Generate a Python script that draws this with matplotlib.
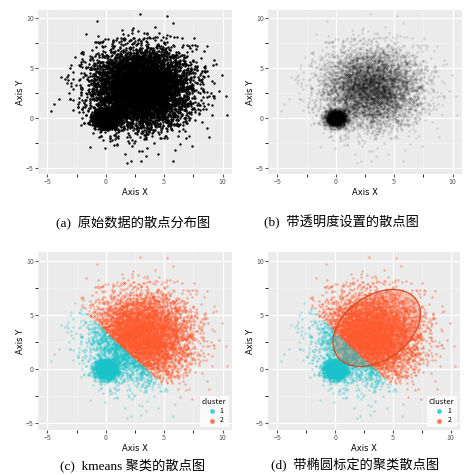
import numpy as np
import matplotlib
matplotlib.use("Agg")
import matplotlib.pyplot as plt
from matplotlib.patches import Ellipse

plt.rcParams["font.family"] = ["Noto Sans CJK SC", "DejaVu Sans"]

# cluster parameters (centre x, centre y, sd x, sd y, count)
cluster_cx = [0.0, 3.0]
cluster_cy = [0.0, 3.0]
cluster_sx = [0.45, 2.1]
cluster_sy = [0.4, 2.0]
cluster_n = [2500, 6500]
captions = ["(a)  原始数据的散点分布图", "(b)  带透明度设置的散点图",
            "(c)  kmeans 聚类的散点图", "(d)  带椭圆标定的聚类散点图"]
ticks = [-5, 0, 5, 10]
cyan, orange = "#19c3c9", "#ff5a2e"

# the cloud is too dense to read point by point: sample it from the read-off parameters
rng = np.random.default_rng(3)
xs, ys = [], []
for cx, cy, sx, sy, n in zip(cluster_cx, cluster_cy, cluster_sx, cluster_sy, cluster_n):
    xs.append(rng.normal(cx, sx, n))
    ys.append(rng.normal(cy, sy, n))
x = np.concatenate(xs)
y = np.concatenate(ys)
lab = ((x - 3.5) ** 2 + (y - 3.5) ** 2) < (x ** 2 + y ** 2)

fig = plt.figure(figsize=(4.74, 4.75), dpi=100)
fig.patch.set_facecolor("white")
W, H = 474, 475
boxes = [(38, 10, 232, 174), (268, 10, 462, 174), (38, 252, 232, 430), (268, 252, 460, 430)]


def style(ax):
    ax.set_facecolor("#ebebeb")
    ax.set_xlim(-5.8, 10.8)
    ax.set_ylim(-5.6, 10.8)
    ax.set_xticks(ticks)
    ax.set_yticks(ticks)
    ax.set_xticks([-2.5, 2.5, 7.5], minor=True)
    ax.set_yticks([-2.5, 2.5, 7.5], minor=True)
    ax.grid(True, which="major", color="white", lw=0.9)
    ax.grid(True, which="minor", color="#f5f5f5", lw=0.5)
    ax.set_axisbelow(True)
    for s in ax.spines.values():
        s.set_visible(False)
    ax.tick_params(labelsize=5, colors="#555555", length=2, pad=1)
    ax.set_xlabel("Axis X", fontsize=6, labelpad=1, family="DejaVu Sans")
    ax.set_ylabel("Axis Y", fontsize=6, labelpad=1, family="DejaVu Sans")


axes = []
for (x0, y0, x1, y1) in boxes:
    ax = fig.add_axes([x0 / W, 1 - y1 / H, (x1 - x0) / W, (y1 - y0) / H])
    style(ax)
    axes.append(ax)

axes[0].scatter(x, y, s=3, c="black", lw=0)
axes[1].scatter(x, y, s=3, c="black", alpha=0.12, lw=0)
for ax in axes[2:]:
    ax.scatter(x[~lab], y[~lab], s=3, c=cyan, alpha=0.35, lw=0, label="1")
    ax.scatter(x[lab], y[lab], s=3, c=orange, alpha=0.45, lw=0, label="2")

axes[3].add_patch(Ellipse((3.6, 3.8), 8.6, 5.8, angle=40, fc=orange, ec="#d64a20",
                          alpha=0.3, lw=1))
axes[3].add_patch(Ellipse((3.6, 3.8), 8.6, 5.8, angle=40, fill=False, ec="#d64a20", lw=0.8))

for ax, title in zip(axes[2:], ["cluster", "Cluster"]):
    leg = ax.legend(title=title, loc="lower right", fontsize=5, title_fontsize=5.5,
                    markerscale=2, frameon=True, handletextpad=0.2, borderpad=0.3,
                    labelspacing=0.2)
    leg.get_frame().set_facecolor("white")
    leg.get_frame().set_edgecolor("none")
    for h in leg.legend_handles:
        h.set_alpha(0.8)

cap_pos = [(0.28, 1 - 222 / H), (0.72, 1 - 222 / H), (0.28, 1 - 465 / H), (0.75, 1 - 465 / H)]
for (cx, cy), t in zip(cap_pos, captions):
    fig.text(cx, cy, t, ha="center", va="center", fontsize=9.5,
             family=["Liberation Serif", "Noto Sans CJK SC"])

fig.savefig("out.png", dpi=100)
